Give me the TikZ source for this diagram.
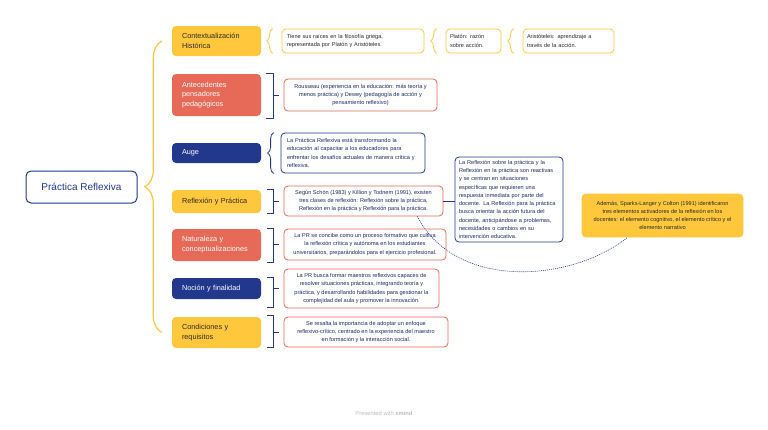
\documentclass[tikz,border=0pt]{standalone}
\usepackage{fontspec}
\setmainfont{Liberation Sans}
\usetikzlibrary{decorations.pathreplacing}
\definecolor{navyc}{HTML}{22388C}
\definecolor{coralc}{HTML}{E66A57}
\definecolor{yellowc}{HTML}{FFC73C}
\definecolor{darktext}{HTML}{2B2B2B}
\definecolor{infotext}{HTML}{1E2C66}

\begin{document}
\begin{tikzpicture}[x=1pt, y=-1pt,
  rootnode/.style={draw=navyc, line width=1pt, rounded corners=5pt, fill=white, text=navyc, minimum width=111pt, minimum height=32pt, font=\fontsize{10}{12}\selectfont},
  catnode/.style={rounded corners=4pt, text width=69pt, inner xsep=10pt, inner ysep=2pt, align=left, font=\fontsize{7.3}{9.8}\selectfont},
  yellowcat/.style={catnode, fill=yellowc, text=darktext},
  coralcat/.style={catnode, fill=coralc, text=white},
  navycat/.style={catnode, fill=navyc, text=white},
  infonode/.style={draw, line width=0.8pt, rounded corners=4pt, fill=white, text=infotext, inner sep=2pt, align=center, font=\fontsize{5.6}{8.3}\selectfont},
  yellowinfo/.style={infonode, draw=yellowc, text=darktext, align=left},
  coralinfo/.style={infonode, draw=coralc},
  navyinfo/.style={infonode, draw=navyc, align=left},
  bigbrace/.style={draw=yellowc, line width=1.2pt, decorate, decoration={brace, amplitude=17pt}},
  smallbrace/.style={line width=0.8pt, decorate, decoration={brace, amplitude=6pt}},
  bracket/.style={draw=navyc, line width=0.9pt}]

\useasboundingbox[fill=white] (0,0) rectangle (768,429);

%Nodes
\node[rootnode] (root) at (81.5,187) {Práctica Reflexiva};

\node[yellowcat, minimum height=30pt] (cat1) at (216.5,41) {Contextualización\\Histórica};
\node[coralcat, minimum height=42pt] (cat2) at (216.5,95) {Antecedentes\\pensadores\\pedagógicos};
\node[navycat, minimum height=20pt] (cat3) at (216.5,153) {Auge};
\node[yellowcat, minimum height=23pt] (cat4) at (216.5,201.5) {Reflexión y Práctica};
\node[coralcat, minimum height=32pt] (cat5) at (216.5,245) {Naturaleza y\\conceptualizaciones};
\node[navycat, minimum height=21pt] (cat6) at (216.5,288.5) {Noción y finalidad};
\node[yellowcat, minimum height=31pt] (cat7) at (216.5,332.5) {Condiciones y\\requisitos};

\node[yellowinfo, text width=132pt, inner xsep=5pt, minimum height=24pt] (raices) at (353,41) {Tiene sus raíces en la filosofía griega,\\representada por Platón y Aristóteles.};
\node[yellowinfo, text width=47pt, inner xsep=4pt, minimum height=24pt] (platon) at (473.5,41) {Platón: razón\\sobre acción.};
\node[yellowinfo, text width=83pt, inner xsep=4pt, minimum height=24pt] (aristoteles) at (568.5,41) {Aristóteles: aprendizaje a\\través de la acción.};

\node[coralinfo, minimum width=153pt, minimum height=32pt] (info2) at (360.5,95) {Rousseau (experiencia en la educación: más teoría y\\menos práctica) y Dewey (pedagogía de acción y\\pensamiento reflexivo)};
\node[navyinfo, text width=132pt, inner xsep=6pt, minimum height=40pt] (info3) at (353,153) {La Práctica Reflexiva está transformando la\\educación al capacitar a los educadores para\\enfrentar los desafíos actuales de manera crítica y\\reflexiva.};
\node[coralinfo, minimum width=159pt, minimum height=30pt] (tipos) at (363.5,201) {Según Schön (1983) y Killion y Todnem (1991), existen\\tres clases de reflexión: Reflexión sobre la práctica,\\Reflexión en la práctica y Reflexión para la práctica.};
\node[navyinfo, text width=100pt, inner xsep=4pt, minimum height=85pt] (reactivas) at (509,199.5) {La Reflexión sobre la práctica y la\\Reflexión en la práctica son reactivas\\y se centran en situaciones\\específicas que requieren una\\respuesta inmediata por parte del\\docente. La Reflexión para la práctica\\busca orientar la acción futura del\\docente, anticipándose a problemas,\\necesidades o cambios en su\\intervención educativa.};
\node[infonode, draw=yellowc, fill=yellowc, text=darktext, minimum width=161pt, minimum height=43pt] (elementos) at (662.5,215.5) {Además, Sparks-Langer y Colton (1991) identificaron\\tres elementos activadores de la reflexión en los\\docentes: el elemento cognitivo, el elemento crítico y el\\elemento narrativo};
\node[coralinfo, minimum width=162pt, minimum height=31pt] (info5) at (365,244.5) {La PR se concibe como un proceso formativo que cultiva\\la reflexión crítica y autónoma en los estudiantes\\universitarios, preparándolos para el ejercicio profesional.};
\node[coralinfo, minimum width=155pt, minimum height=39pt] (info6) at (361.5,288.5) {La PR busca formar maestros reflexivos capaces de\\resolver situaciones prácticas, integrando teoría y\\práctica, y desarrollando habilidades para gestionar la\\complejidad del aula y promover la innovación.};
\node[coralinfo, minimum width=164pt, minimum height=30pt] (info7) at (366,332) {Se resalta la importancia de adoptar un enfoque\\reflexivo-crítico, centrado en la experiencia del maestro\\en formación y la interacción social.};

\node[text=black!25, font=\fontsize{5.8}{7}\selectfont] (xmind) at (384,413) {Presented with \textbf{xmind}};

%braces
\draw[bigbrace] ([xshift=-10pt]cat7.west) -- ([xshift=-10pt]cat1.west);
\draw[smallbrace, draw=yellowc] ([xshift=-9pt]raices.south west) -- ([xshift=-9pt]raices.north west);
\draw[smallbrace, draw=yellowc] ([xshift=-9pt]platon.south west) -- ([xshift=-9pt]platon.north west);
\draw[smallbrace, draw=yellowc] ([xshift=-9pt]aristoteles.south west) -- ([xshift=-9pt]aristoteles.north west);
\draw[smallbrace, draw=navyc] ([xshift=-7pt]info3.south west) -- ([xshift=-7pt]info3.north west);

%brackets
\draw[bracket] (266,73) -- (273,73) -- (273,118) -- (266,118);
\draw[bracket, shorten >=5pt] (273,95) -- (info2.west);
\draw[bracket] (267,189) -- (273,189) -- (273,213) -- (267,213);
\draw[bracket, shorten >=5pt] (273,201) -- (tipos.west);
\draw[bracket] (267,228) -- (273,228) -- (273,262) -- (267,262);
\draw[bracket, shorten >=5pt] (273,244.5) -- (info5.west);
\draw[bracket] (267,277) -- (273,277) -- (273,307) -- (267,307);
\draw[bracket, shorten >=5pt] (273,288.5) -- (info6.west);
\draw[bracket] (267,315) -- (273,315) -- (273,347) -- (267,347);
\draw[bracket, shorten >=5pt] (273,332) -- (info7.west);

%line
\draw[navyc, line width=0.8pt] (tipos.east) -- (reactivas.west |- tipos.east);
\draw[navyc, line width=0.6pt, dash pattern=on 1pt off 1pt] ([xshift=-26pt]tipos.south east) .. controls (455,290) and (570,283) .. ([xshift=46pt]elementos.south west);

\end{tikzpicture}
\end{document}
